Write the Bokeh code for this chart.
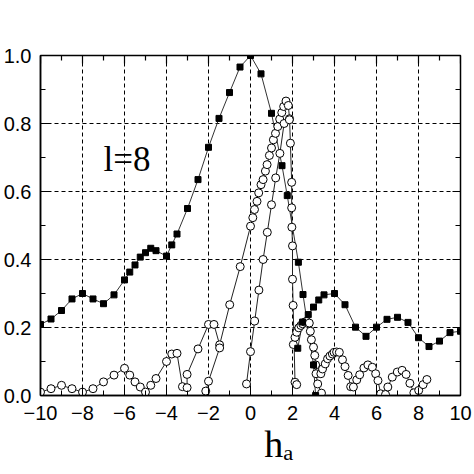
import math
from bokeh.plotting import figure
from bokeh.models import Range1d, Label, SingleIntervalTicker, NumeralTickFormatter
from bokeh.embed import file_html
from bokeh.resources import INLINE

# filled squares, branch 1 (main peak)
sq1_x = [-10, -9.5, -9, -8.5, -8, -7.5, -7, -6.5, -6, -5.75, -5.5, -5.25, -5, -4.75, -4.5,
         -4, -3.75, -3.5, -3, -2.5, -2, -1.5, -1, -0.5, 0, 0.5, 1, 1.5, 1.75, 2.28, 2.5, 3.0, 3.1]
sq1_y = [0.209, 0.225, 0.25, 0.284, 0.30, 0.284, 0.27, 0.296, 0.34, 0.363, 0.384, 0.407, 0.42, 0.433, 0.426,
         0.41, 0.443, 0.475, 0.55, 0.635, 0.73, 0.815, 0.891, 0.966, 1.0, 0.946, 0.83, 0.676, 0.588, 0.392, 0.297, 0.09, 0.0]

# filled squares, branch 2
sq2_x = [2.25, 2.48, 2.75, 3.0, 3.25, 3.5, 4.0, 4.5, 5.0, 5.5, 6.0, 6.5, 7.0, 7.5, 8.0, 8.5, 9.0, 9.5, 10.0]
sq2_y = [0.139, 0.216, 0.238, 0.26, 0.281, 0.296, 0.30, 0.267, 0.201, 0.174, 0.201, 0.224, 0.23, 0.215,
         0.17, 0.144, 0.16, 0.185, 0.189]

# open circles, branch 1
c1_x = [-10, -9.5, -9, -8.5, -8, -7.5, -7, -6.5, -6, -5.75, -5.5, -5.25, -5, -4.75, -4.5, -4, -3.75, -3.5,
        -3.24, -3.02, -3.02, -2.5, -2.0, -1.74, -1.47, -0.99, -0.49,
        0.0, 0.11, 0.19, 0.31, 0.39, 0.5, 0.6, 0.71, 0.79, 0.9, 1.0, 1.09, 1.19, 1.3, 1.39, 1.49, 1.58, 1.69,
        1.8, 1.86, 1.9, 1.96, 1.96, 1.97, 2.0, 2.0, 2.03, 2.12, 2.2]
c1_y = [0.01, 0.02, 0.03, 0.02, 0.01, 0.02, 0.04, 0.06, 0.08, 0.06, 0.04, 0.025, 0.01, 0.03, 0.05, 0.10, 0.122, 0.124,
        0.026, 0.023, 0.062, 0.137, 0.209, 0.209, 0.149, 0.267, 0.379,
        0.498, 0.523, 0.547, 0.571, 0.596, 0.62, 0.635, 0.66, 0.679, 0.706, 0.728, 0.752, 0.771, 0.791, 0.813, 0.832, 0.85, 0.866,
        0.853, 0.814, 0.742, 0.627, 0.552, 0.495, 0.44, 0.342, 0.265, 0.039, 0.032]

# open circles, short branch near -2
c2_x = [-2.13, -2.0, -1.47]
c2_y = [0.013, 0.042, 0.14]

# open circles, middle ramp
c3_x = [-0.19, 0.0, 0.2, 0.4, 0.6, 0.8, 1.0, 1.2, 1.4, 1.6, 1.85]
c3_y = [0.034, 0.129, 0.219, 0.31, 0.40, 0.48, 0.561, 0.64, 0.712, 0.80, 0.811]

# open circles, side lobe after the peak
c4_x = [2.04, 2.12, 2.2, 2.3, 2.4, 2.48, 2.58, 2.67, 2.8, 2.85, 2.9, 3.0, 3.06, 3.1, 3.12, 3.2, 3.38]
c4_y = [0.15, 0.171, 0.186, 0.199, 0.206, 0.211, 0.216, 0.218, 0.213, 0.189, 0.164, 0.142, 0.118, 0.09,
        0.064, 0.034, 0.007]

# open circles, oscillating tail
c5_x = [3.35, 3.43, 3.56, 3.67, 3.78, 3.9, 3.98, 4.1, 4.23, 4.38, 4.5, 4.65, 4.77, 4.9, 5.06, 5.2, 5.4, 5.59,
        5.8, 5.96, 6.07, 6.2, 6.43, 6.54, 6.75, 6.99, 7.22, 7.41, 7.59, 7.78, 8.01, 8.22, 8.4]
c5_y = [0.064, 0.078, 0.093, 0.108, 0.116, 0.122, 0.127, 0.128, 0.127, 0.105, 0.085, 0.059, 0.026, 0.025,
        0.046, 0.061, 0.081, 0.09, 0.083, 0.064, 0.044, 0.005, 0.003, 0.025, 0.054, 0.069, 0.074, 0.062,
        0.036, 0.008, 0.015, 0.032, 0.047]

# tick positions (used for the mirrored ticks on top and right)
x_major = [-10, -8, -6, -4, -2, 0, 2, 4, 6, 8, 10]
x_minor = [-9, -7, -5, -3, -1, 1, 3, 5, 7, 9]
y_major = [0.0, 0.2, 0.4, 0.6, 0.8, 1.0]
y_minor = [0.1, 0.3, 0.5, 0.7, 0.9]

FONT = "Liberation Sans"
SERIF = "Liberation Serif"

p = figure(width=474, height=474, output_backend="svg", toolbar_location=None, tools="",
           x_range=Range1d(-10, 10), y_range=Range1d(0, 1.0),
           min_border_left=10, min_border_right=14, min_border_top=55, min_border_bottom=79)
p.outline_line_color = "black"
p.outline_line_width = 1.5
p.background_fill_color = "white"
p.border_fill_color = "white"

p.xaxis.ticker = SingleIntervalTicker(interval=2, num_minor_ticks=2)
p.yaxis.ticker = SingleIntervalTicker(interval=0.2, num_minor_ticks=2)
p.yaxis.formatter = NumeralTickFormatter(format="0.0")

for ax in [p.xaxis[0], p.yaxis[0]]:
    ax.major_label_text_font = FONT
    ax.major_label_text_font_size = "20px"
    ax.major_label_text_color = "black"
    ax.axis_line_color = "black"
    ax.axis_line_width = 1.5
    ax.major_tick_in = 8
    ax.major_tick_out = 0
    ax.minor_tick_in = 5
    ax.minor_tick_out = 0
    ax.major_tick_line_color = "black"
    ax.minor_tick_line_color = "black"
p.xaxis.major_label_standoff = 10
p.yaxis.major_label_standoff = 9

# x axis title h with subscript a (nbsp pads push it right like the original)
p.xaxis.axis_label = "\u00a0" * 6 + "h\u2090"
p.xaxis.axis_label_text_font = SERIF
p.xaxis.axis_label_text_font_size = "38px"
p.xaxis.axis_label_text_font_style = "normal"
p.xaxis.axis_label_text_color = "black"
p.xaxis.axis_label_standoff = 0

p.grid.grid_line_color = "black"
p.grid.grid_line_dash = "4 3"
p.grid.grid_line_width = 1

# mirrored inward ticks on top and right (outer half is clipped by the frame)
p.scatter(x_major, [1.0] * len(x_major), marker="dash", angle=math.pi / 2, size=16, line_color="black", line_width=1.2)
p.scatter(x_minor, [1.0] * len(x_minor), marker="dash", angle=math.pi / 2, size=10, line_color="black", line_width=1.2)
p.scatter([10] * len(y_major), y_major, marker="dash", size=16, line_color="black", line_width=1.2)
p.scatter([10] * len(y_minor), y_minor, marker="dash", size=10, line_color="black", line_width=1.2)

# lines
for xs, ys in [(sq1_x, sq1_y), (sq2_x, sq2_y)]:
    p.line(xs, ys, line_color="#333333", line_width=1)
for xs, ys in [(c1_x, c1_y), (c2_x, c2_y), (c3_x, c3_y), (c4_x, c4_y), (c5_x, c5_y)]:
    p.line(xs, ys, line_color="#222222", line_width=1)

# markers
for xs, ys in [(c1_x, c1_y), (c2_x, c2_y), (c3_x, c3_y), (c4_x, c4_y), (c5_x, c5_y)]:
    p.scatter(xs, ys, marker="circle", size=8, fill_color="white", line_color="black", line_width=1)
for xs, ys in [(sq1_x, sq1_y), (sq2_x, sq2_y)]:
    p.scatter(xs, ys, marker="square", size=6, fill_color="black", line_color="black")

p.add_layout(Label(x=-7.0, y=0.695, text="l=8", text_font=SERIF, text_baseline="alphabetic",
                   text_font_size="35px", text_color="black"))

open("out.html", "w").write(file_html(p, INLINE))
